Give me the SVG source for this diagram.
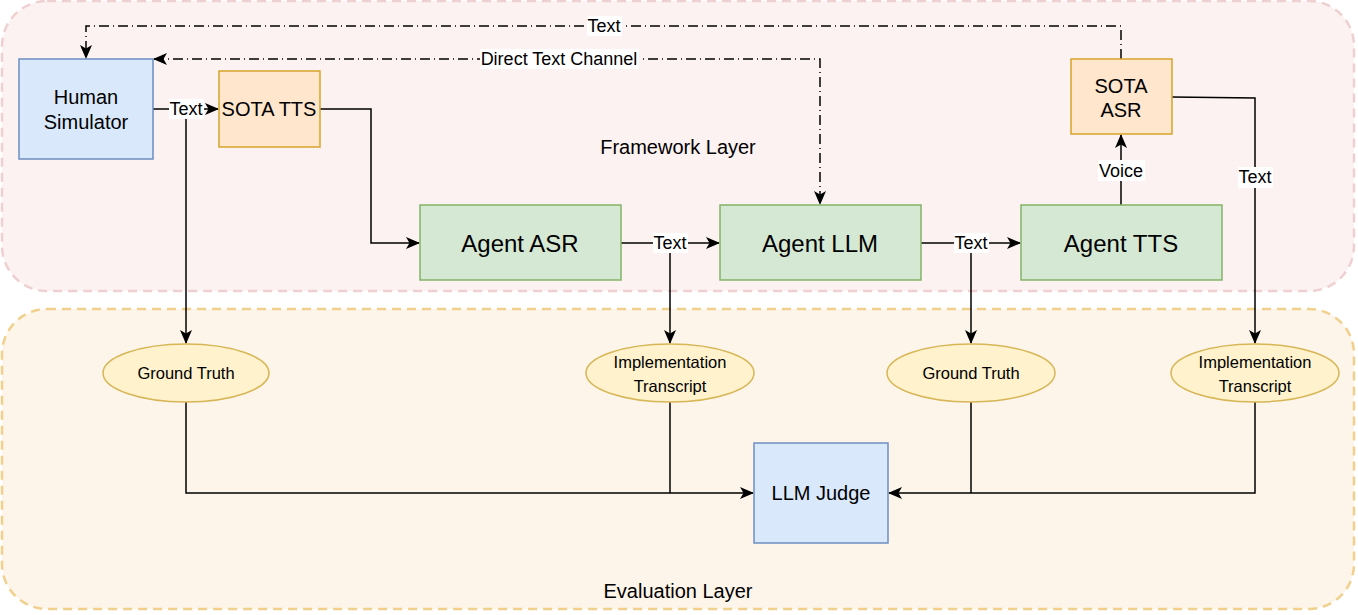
<svg xmlns="http://www.w3.org/2000/svg" width="1358" height="615" viewBox="0 0 1358 615">
<defs>
<style>
.lbl{font-family:"Liberation Sans",Arial,sans-serif;fill:#000;text-anchor:middle;dominant-baseline:central}
.e{fill:none;stroke:#000;stroke-width:1.5}
.dd{stroke-dasharray:10 4 1 4}
.blue{fill:#dae8fc;stroke:#6c8ebf;stroke-width:1.5}
.org{fill:#ffe6cc;stroke:#d7a42a;stroke-width:1.5}
.grn{fill:#d5e8d4;stroke:#82b366;stroke-width:1.5}
.yel{fill:#fff2cc;stroke:#d6b656;stroke-width:1.5}
.bg{fill:#ffffff}
</style>
<marker id="ar" viewBox="0 0 14 12" refX="13" refY="6" markerWidth="14" markerHeight="12" markerUnits="userSpaceOnUse" orient="auto">
<path d="M0,0 L14,6 L0,12 L3.5,6 Z" fill="#000"/>
</marker>
<marker id="as" viewBox="0 0 14 12" refX="1" refY="6" markerWidth="14" markerHeight="12" markerUnits="userSpaceOnUse" orient="auto">
<path d="M14,0 L0,6 L14,12 L10.5,6 Z" fill="#000"/>
</marker>
</defs>
<g id="framework-layer">
<rect x="2" y="1" width="1352" height="290" rx="45" fill="#fdf2f2" stroke="#efd0d0" stroke-width="2.5" stroke-dasharray="9 6"/>
<text class="lbl" x="678" y="147" font-size="20">Framework Layer</text>
</g>
<g id="evaluation-layer">
<rect x="2" y="309" width="1352" height="300" rx="45" fill="#fef5ea" stroke="#f0d08c" stroke-width="2.5" stroke-dasharray="9 6"/>
<text class="lbl" x="678" y="591" font-size="20">Evaluation Layer</text>
</g>
<g id="connectors">
<path class="e" d="M153,109 L218,109" marker-end="url(#ar)"/>
<path class="e" d="M186,109 L186,343" marker-end="url(#ar)"/>
<path class="e" d="M320,109 L371,109 L371,243 L419,243" marker-end="url(#ar)"/>
<path class="e" d="M621,243 L719,243" marker-end="url(#ar)"/>
<path class="e" d="M670,243 L670,343" marker-end="url(#ar)"/>
<path class="e" d="M921,243 L1020,243" marker-end="url(#ar)"/>
<path class="e" d="M971,243 L971,343" marker-end="url(#ar)"/>
<path class="e" d="M1121,205 L1121,135" marker-end="url(#ar)"/>
<path class="e" d="M1172,97 L1255,98 L1255,343" marker-end="url(#ar)"/>
<path class="e dd" d="M1121,59 L1121,26 L86,26 L86,58" marker-end="url(#ar)"/>
<path class="e dd" d="M154,59 L820,59 L820,204" marker-start="url(#as)" marker-end="url(#ar)"/>
<path class="e" d="M186,402 L186,493 L753,493" marker-end="url(#ar)"/>
<path class="e" d="M670,402 L670,493"/>
<path class="e" d="M1255,402 L1255,493 L889,493" marker-end="url(#ar)"/>
<path class="e" d="M971,402 L971,493"/>
<rect class="bg" x="169" y="99" width="35" height="20"/>
<text class="lbl" x="186" y="109" font-size="18">Text</text>
<rect class="bg" x="653" y="233" width="35" height="20"/>
<text class="lbl" x="670" y="243" font-size="18">Text</text>
<rect class="bg" x="954" y="233" width="35" height="20"/>
<text class="lbl" x="971" y="243" font-size="18">Text</text>
<rect class="bg" x="1098" y="160" width="47" height="21"/>
<text class="lbl" x="1121" y="171" font-size="18">Voice</text>
<rect class="bg" x="1238" y="167" width="35" height="21"/>
<text class="lbl" x="1255" y="177" font-size="18">Text</text>
<rect class="bg" x="587" y="16" width="35" height="20"/>
<text class="lbl" x="604" y="26" font-size="18">Text</text>
<rect class="bg" x="480" y="49" width="159" height="20"/>
<text class="lbl" x="559" y="59" font-size="18">Direct Text Channel</text>
</g>
<g id="human-simulator">
<rect class="blue" x="19" y="59" width="134" height="100"/>
<text class="lbl" x="86" y="97" font-size="20">Human</text>
<text class="lbl" x="86" y="122" font-size="20">Simulator</text>
</g>
<g id="sota-tts">
<rect class="org" x="219" y="71" width="101" height="76"/>
<text class="lbl" x="269" y="109" font-size="20">SOTA TTS</text>
</g>
<g id="sota-asr">
<rect class="org" x="1071" y="59" width="101" height="75"/>
<text class="lbl" x="1121" y="86" font-size="20">SOTA</text>
<text class="lbl" x="1121" y="110" font-size="20">ASR</text>
</g>
<g id="agent-asr">
<rect class="grn" x="420" y="205" width="201" height="75"/>
<text class="lbl" x="520" y="243" font-size="24">Agent ASR</text>
</g>
<g id="agent-llm">
<rect class="grn" x="720" y="205" width="201" height="75"/>
<text class="lbl" x="820" y="243" font-size="24">Agent LLM</text>
</g>
<g id="agent-tts">
<rect class="grn" x="1021" y="205" width="201" height="75"/>
<text class="lbl" x="1121" y="243" font-size="24">Agent TTS</text>
</g>
<g id="ground-truth-1">
<ellipse class="yel" cx="186" cy="373" rx="83" ry="29"/>
<text class="lbl" x="186" y="373" font-size="16.5">Ground Truth</text>
</g>
<g id="implementation-transcript-1">
<ellipse class="yel" cx="670" cy="373" rx="84" ry="29"/>
<text class="lbl" x="670" y="362" font-size="16.5">Implementation</text>
<text class="lbl" x="670" y="386" font-size="16.5">Transcript</text>
</g>
<g id="ground-truth-2">
<ellipse class="yel" cx="971" cy="373" rx="84" ry="29"/>
<text class="lbl" x="971" y="373" font-size="16.5">Ground Truth</text>
</g>
<g id="implementation-transcript-2">
<ellipse class="yel" cx="1255" cy="373" rx="84" ry="29"/>
<text class="lbl" x="1255" y="362" font-size="16.5">Implementation</text>
<text class="lbl" x="1255" y="386" font-size="16.5">Transcript</text>
</g>
<g id="llm-judge">
<rect class="blue" x="754" y="443" width="134" height="100"/>
<text class="lbl" x="821" y="493" font-size="20">LLM Judge</text>
</g>
</svg>
